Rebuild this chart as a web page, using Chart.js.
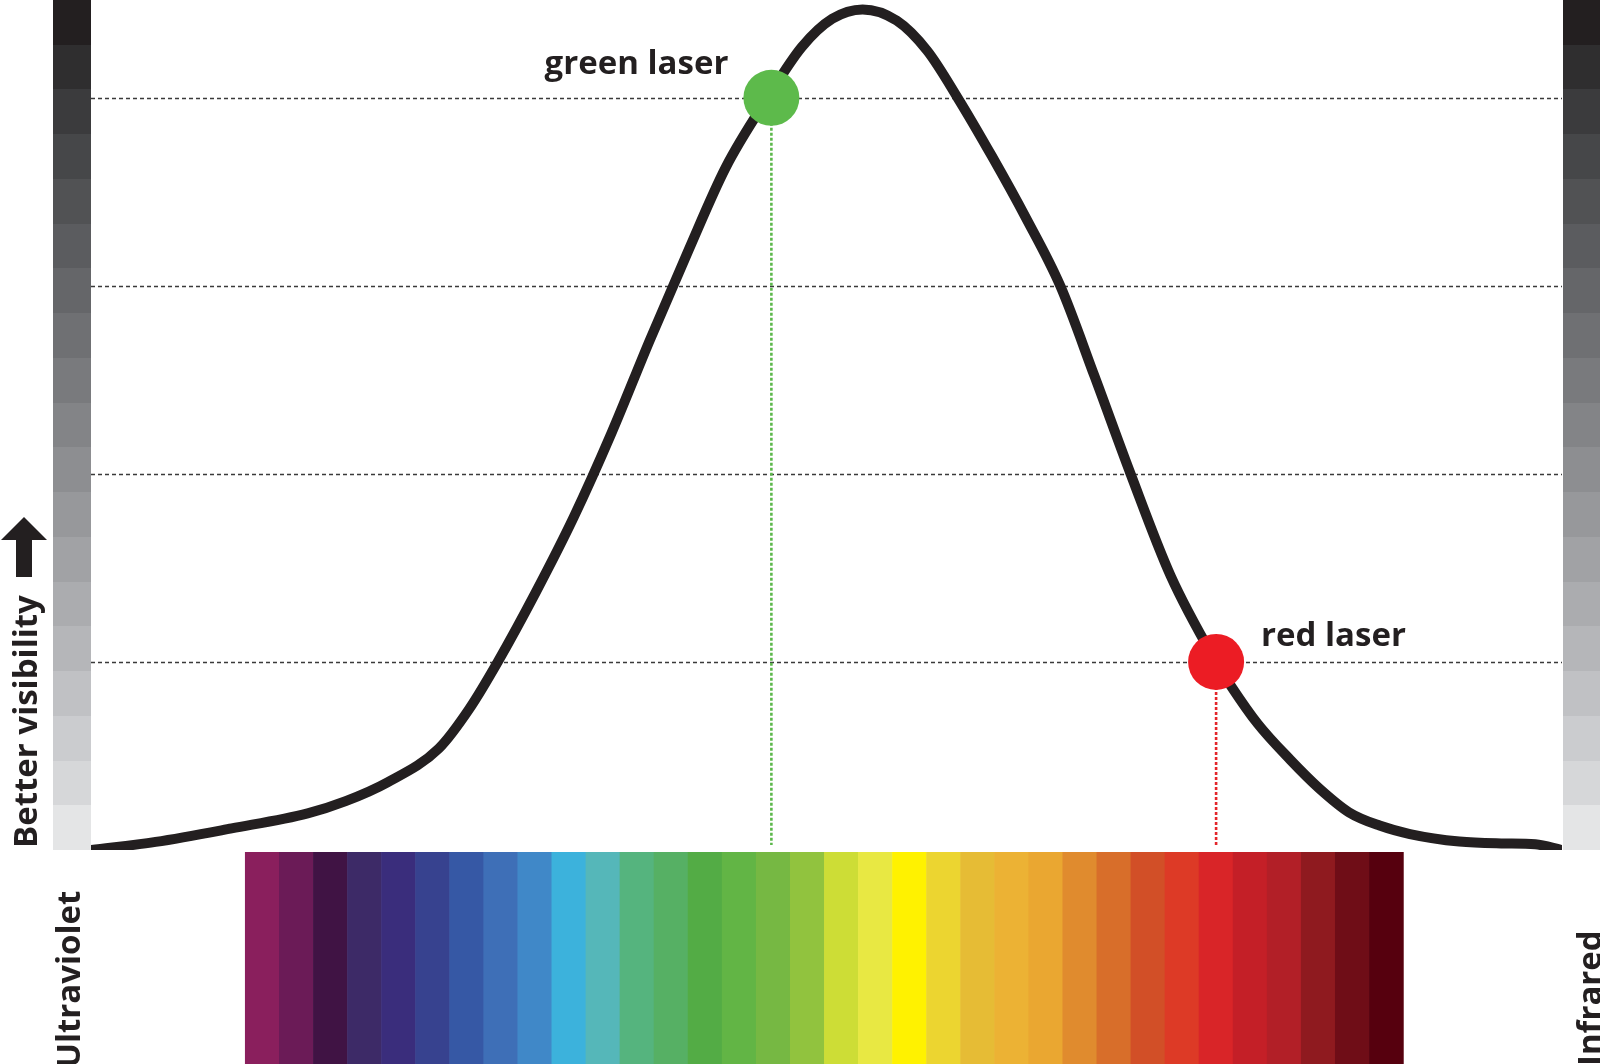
<!DOCTYPE html>
<html>
<head>
<meta charset="utf-8">
<title>Laser visibility</title>
<script src="https://cdn.jsdelivr.net/npm/chart.js@4.4.1/dist/chart.umd.min.js"></script>
<style>
  html, body { margin: 0; padding: 0; background: #fff; }
  #wrap { position: relative; width: 1600px; height: 1064px; }
</style>
</head>
<body>
<div id="wrap"><canvas id="chart"></canvas></div>
<script>
// eye sensitivity curve, wavelength in nm against relative visibility (gridline units)
const wavelengths = [353, 370, 390, 410, 420, 431, 444.5, 452.5, 460, 470, 480, 490, 500, 510, 520, 531, 540, 548, 556, 565, 573, 581, 590, 599, 608, 617, 626.5, 637, 649, 653, 660, 668.5, 676, 684, 692, 700, 713, 724, 733, 740];
const visibility = [0, 0.043, 0.115, 0.195, 0.26, 0.36, 0.54, 0.75, 1.0, 1.37, 1.77, 2.22, 2.71, 3.18, 3.63, 4.0, 4.27, 4.42, 4.47, 4.41, 4.25, 4.0, 3.69, 3.36, 3.0, 2.52, 2.0, 1.46, 1.0, 0.87, 0.67, 0.48, 0.33, 0.2, 0.13, 0.085, 0.045, 0.035, 0.03, 0];

const laserNames = ["green laser", "red laser"];
const laserWavelengths = [532, 649];
const laserVisibility = [4, 1];
const laserColors = ["#5dba4b", "#ec1c24"];
const laserLineColors = ["#5cb84b", "#e3262b"];

const gridLevels = [1, 2, 3, 4];
const xMin = 353;
const xMax = 740;
const yMax = 4.52;
const dropTo = 0.027;

const spectrumStart = 393.5;
const spectrumEnd = 698.2;
const spectrumColors = [
  "#8a1f5d", "#6b1b57", "#401344", "#3d2a67", "#3a2d7c", "#37428f", "#3658a5", "#3e6fb7", "#4088c8",
  "#3cb2dc", "#55b7b9", "#55b47e", "#56b064", "#53ac45", "#62b545", "#76b843", "#91c33e",
  "#cddd36", "#e8e843", "#fff200", "#ecd530", "#e6bc35", "#ecb234", "#eaa731", "#e08b2e",
  "#d86e2a", "#d24f27", "#dd3a26", "#d92528", "#c41f27", "#b21f27", "#8f1a1f", "#6f0d17", "#56000e"
];
const grayShades = [
  "#231f20", "#2f2e2f", "#3b3b3d", "#464749", "#515254", "#5b5c5f", "#656669", "#6f7073", "#797a7d",
  "#838487", "#8d8e91", "#97989b", "#a1a2a5", "#abacaf", "#b5b6b9", "#c0c1c4", "#cbcccf", "#d6d7d9", "#e4e5e6"
];

const ink = "#231f20";
const labelFont = 'bold 33px "Open Sans", "Noto Sans", sans-serif';
const sideFont = 'bold 33px "Open Sans", "Noto Sans", sans-serif';

function rotatedText(ctx, text, x, y) {
  ctx.save();
  ctx.translate(x, y);
  ctx.rotate(-Math.PI / 2);
  ctx.textAlign = "left";
  ctx.textBaseline = "alphabetic";
  ctx.fillText(text, 0, 0);
  ctx.restore();
}

const decorations = {
  id: "decorations",
  beforeDraw(chart) {
    const { ctx, chartArea, scales } = chart;
    ctx.save();
    ctx.fillStyle = "#ffffff";
    ctx.fillRect(0, 0, chart.width, chart.height);

    // grey visibility scales on both sides
    const bandH = chartArea.bottom / grayShades.length;
    grayShades.forEach((c, i) => {
      const y0 = Math.round(i * bandH);
      const y1 = Math.round((i + 1) * bandH);
      ctx.fillStyle = c;
      ctx.fillRect(chartArea.left - 38, y0, 38, y1 - y0);
      ctx.fillRect(chartArea.right + 1, y0, chart.width - chartArea.right - 1, y1 - y0);
    });

    // colour spectrum under the curve
    const step = (spectrumEnd - spectrumStart) / spectrumColors.length;
    spectrumColors.forEach((c, i) => {
      const x0 = scales.x.getPixelForValue(spectrumStart + i * step);
      const x1 = scales.x.getPixelForValue(spectrumStart + (i + 1) * step);
      ctx.fillStyle = c;
      ctx.fillRect(x0, chartArea.bottom + 2, x1 - x0 + 0.6, chart.height - chartArea.bottom - 2);
    });
    ctx.restore();
  },
  beforeDatasetsDraw(chart) {
    const { ctx, chartArea, scales } = chart;
    ctx.save();
    ctx.strokeStyle = "#3a3a3a";
    ctx.lineWidth = 1.4;
    ctx.setLineDash([4, 3]);
    gridLevels.forEach((v) => {
      const y = Math.round(scales.y.getPixelForValue(v)) + 0.5;
      ctx.beginPath();
      ctx.moveTo(chartArea.left, y);
      ctx.lineTo(chartArea.right, y);
      ctx.stroke();
    });

    ctx.lineWidth = 2.6;
    ctx.setLineDash([3, 2]);
    laserWavelengths.forEach((w, i) => {
      const x = scales.x.getPixelForValue(w);
      ctx.strokeStyle = laserLineColors[i];
      ctx.beginPath();
      ctx.moveTo(x, scales.y.getPixelForValue(laserVisibility[i]));
      ctx.lineTo(x, scales.y.getPixelForValue(dropTo));
      ctx.stroke();
    });
    ctx.restore();
  },
  afterDraw(chart) {
    const { ctx, scales } = chart;
    ctx.save();
    ctx.fillStyle = ink;

    // laser labels
    ctx.font = labelFont;
    const gx = scales.x.getPixelForValue(laserWavelengths[0]);
    const gy = scales.y.getPixelForValue(laserVisibility[0]);
    ctx.textAlign = "right";
    ctx.textBaseline = "alphabetic";
    ctx.fillText(laserNames[0], gx - 43, gy - 24);
    const rx = scales.x.getPixelForValue(laserWavelengths[1]);
    const ry = scales.y.getPixelForValue(laserVisibility[1]);
    ctx.textAlign = "left";
    ctx.fillText(laserNames[1], rx + 45, ry - 16);

    // side captions
    ctx.font = sideFont;
    rotatedText(ctx, "Better visibility", 37, 848);
    rotatedText(ctx, "Ultraviolet", 80, 1068);
    rotatedText(ctx, "Infrared", 1601, 1066);

    // arrow pointing up
    ctx.beginPath();
    ctx.moveTo(24, 517);
    ctx.lineTo(47, 540);
    ctx.lineTo(32, 540);
    ctx.lineTo(32, 577);
    ctx.lineTo(16, 577);
    ctx.lineTo(16, 540);
    ctx.lineTo(1, 540);
    ctx.closePath();
    ctx.fill();
    ctx.restore();
  }
};

new Chart(document.getElementById("chart"), {
  type: "line",
  data: {
    datasets: [
      {
        label: "Visibility",
        data: wavelengths.map((w, i) => ({ x: w, y: visibility[i] })),
        borderColor: ink,
        borderWidth: 10,
        pointRadius: 0,
        fill: false,
        cubicInterpolationMode: "monotone",
        order: 1
      },
      {
        type: "scatter",
        label: "Lasers",
        data: laserWavelengths.map((w, i) => ({ x: w, y: laserVisibility[i] })),
        backgroundColor: laserColors,
        borderWidth: 0,
        pointRadius: 28,
        order: 0
      }
    ]
  },
  options: {
    responsive: true,
    maintainAspectRatio: false,
    animation: false,
    layout: { autoPadding: false, padding: { left: 91, right: 38, top: 0, bottom: 214 } },
    plugins: {
      legend: { display: false },
      tooltip: { enabled: false }
    },
    scales: {
      x: { type: "linear", min: xMin, max: xMax, display: false },
      y: { min: 0, max: yMax, display: false }
    }
  },
  plugins: [decorations]
});
</script>
</body>
</html>
